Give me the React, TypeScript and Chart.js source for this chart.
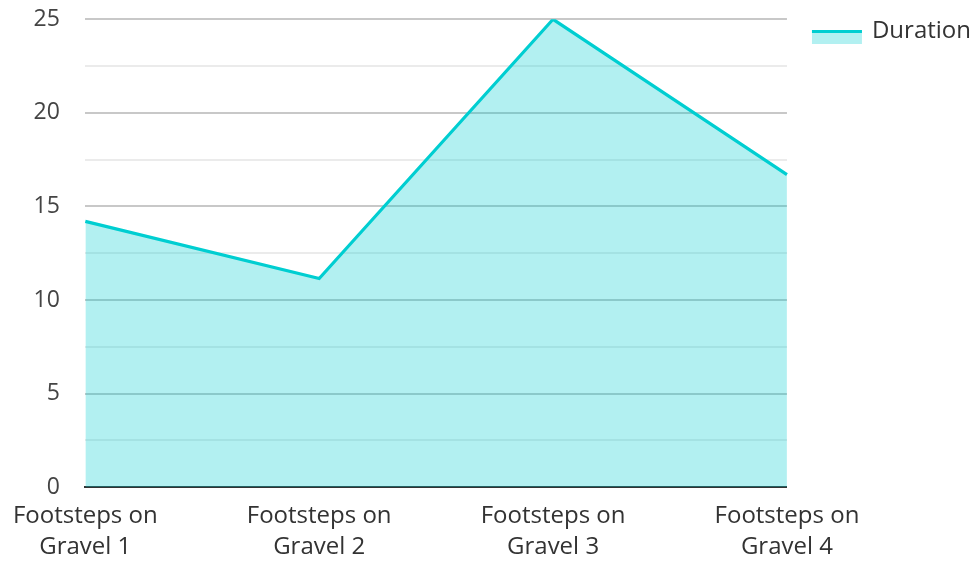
import React, { useEffect, useRef } from "react";
import { Chart, registerables } from "chart.js";

Chart.register(...registerables);

const categories: string[][] = [
  ["Footsteps on", "Gravel 1"],
  ["Footsteps on", "Gravel 2"],
  ["Footsteps on", "Gravel 3"],
  ["Footsteps on", "Gravel 4"],
];
const durationValues: number[] = [14.2, 11.15, 25, 16.7];
const seriesLabel = "Duration";
const yMin = 0;
const yMax = 25;
const yStep = 2.5;

const LINE = "#00CED1";
const FILL = "rgba(0,206,209,0.3)";
const FONT = "'Open Sans', 'Noto Sans', sans-serif";
const TRANSPARENT = "rgba(0,0,0,0)";

const legendBoxPlugin = {
  id: "legendBox",
  afterDraw(chart: any) {
    const legend = chart.legend;
    if (!legend || !legend.legendHitBoxes || !legend.legendHitBoxes.length) return;
    const hb = legend.legendHitBoxes[0];
    const top = hb.top + 11;
    const ctx = chart.ctx;
    ctx.save();
    ctx.fillStyle = FILL;
    ctx.fillRect(hb.left, top, 50, 14);
    ctx.fillStyle = LINE;
    ctx.fillRect(hb.left, top, 50, 3);
    ctx.restore();
  },
};

export default function App() {
  const ref = useRef<HTMLCanvasElement | null>(null);
  useEffect(() => {
    document.body.style.margin = "0";
    if (!ref.current) return;
    const chart = new Chart(ref.current, {
      type: "line",
      data: {
        labels: categories,
        datasets: [
          {
            label: seriesLabel,
            data: durationValues,
            borderColor: LINE,
            backgroundColor: FILL,
            borderWidth: 3.2,
            fill: "origin",
            tension: 0,
            pointRadius: 0,
          },
        ],
      },
      options: {
        animation: false,
        responsive: true,
        maintainAspectRatio: false,
        layout: { padding: { left: 28, top: -6, right: -4, bottom: -1.5 } },
        plugins: {
          legend: {
            position: "right",
            align: "start",
            labels: {
              boxWidth: 48,
              boxHeight: 14,
              padding: 25,
              color: "#333",
              font: { family: FONT, size: 24 },
              generateLabels: (c: any) =>
                c.data.datasets.map((d: any, i: number) => ({
                  text: d.label,
                  fillStyle: TRANSPARENT,
                  strokeStyle: TRANSPARENT,
                  lineWidth: 0,
                  hidden: false,
                  datasetIndex: i,
                  fontColor: "#333",
                })),
            },
          },
          tooltip: { enabled: false },
        },
        scales: {
          x: {
            offset: false,
            grid: {
              display: true,
              drawOnChartArea: false,
              drawTicks: true,
              tickLength: 13,
              tickColor: TRANSPARENT,
            },
            border: { display: true, color: "#333", width: 2 },
            ticks: {
              color: "#333",
              font: { family: FONT, size: 24, lineHeight: 1.3 },
              maxRotation: 0,
              autoSkip: false,
              padding: 0,
            },
          },
          y: {
            min: yMin,
            max: yMax,
            border: { display: false },
            grid: {
              drawTicks: true,
              tickLength: 20,
              tickColor: TRANSPARENT,
              lineWidth: 2,
              color: (ctx: any) =>
                ctx.tick && Math.abs(ctx.tick.value % 5) < 1e-6 ? "#c8c8c8" : "#ebebeb",
            },
            ticks: {
              stepSize: yStep,
              padding: 5.5,
              color: "#444",
              font: { family: FONT, size: 23 },
              callback: (v: any) => (Math.abs(Number(v) % 5) < 1e-6 ? String(v) : ""),
            },
          },
        },
      },
      plugins: [legendBoxPlugin],
    });
    return () => chart.destroy();
  }, []);
  return (
    <div style={{ position: "absolute", left: 0, top: 0, width: 977, height: 561 }}>
      <canvas ref={ref} />
    </div>
  );
}
